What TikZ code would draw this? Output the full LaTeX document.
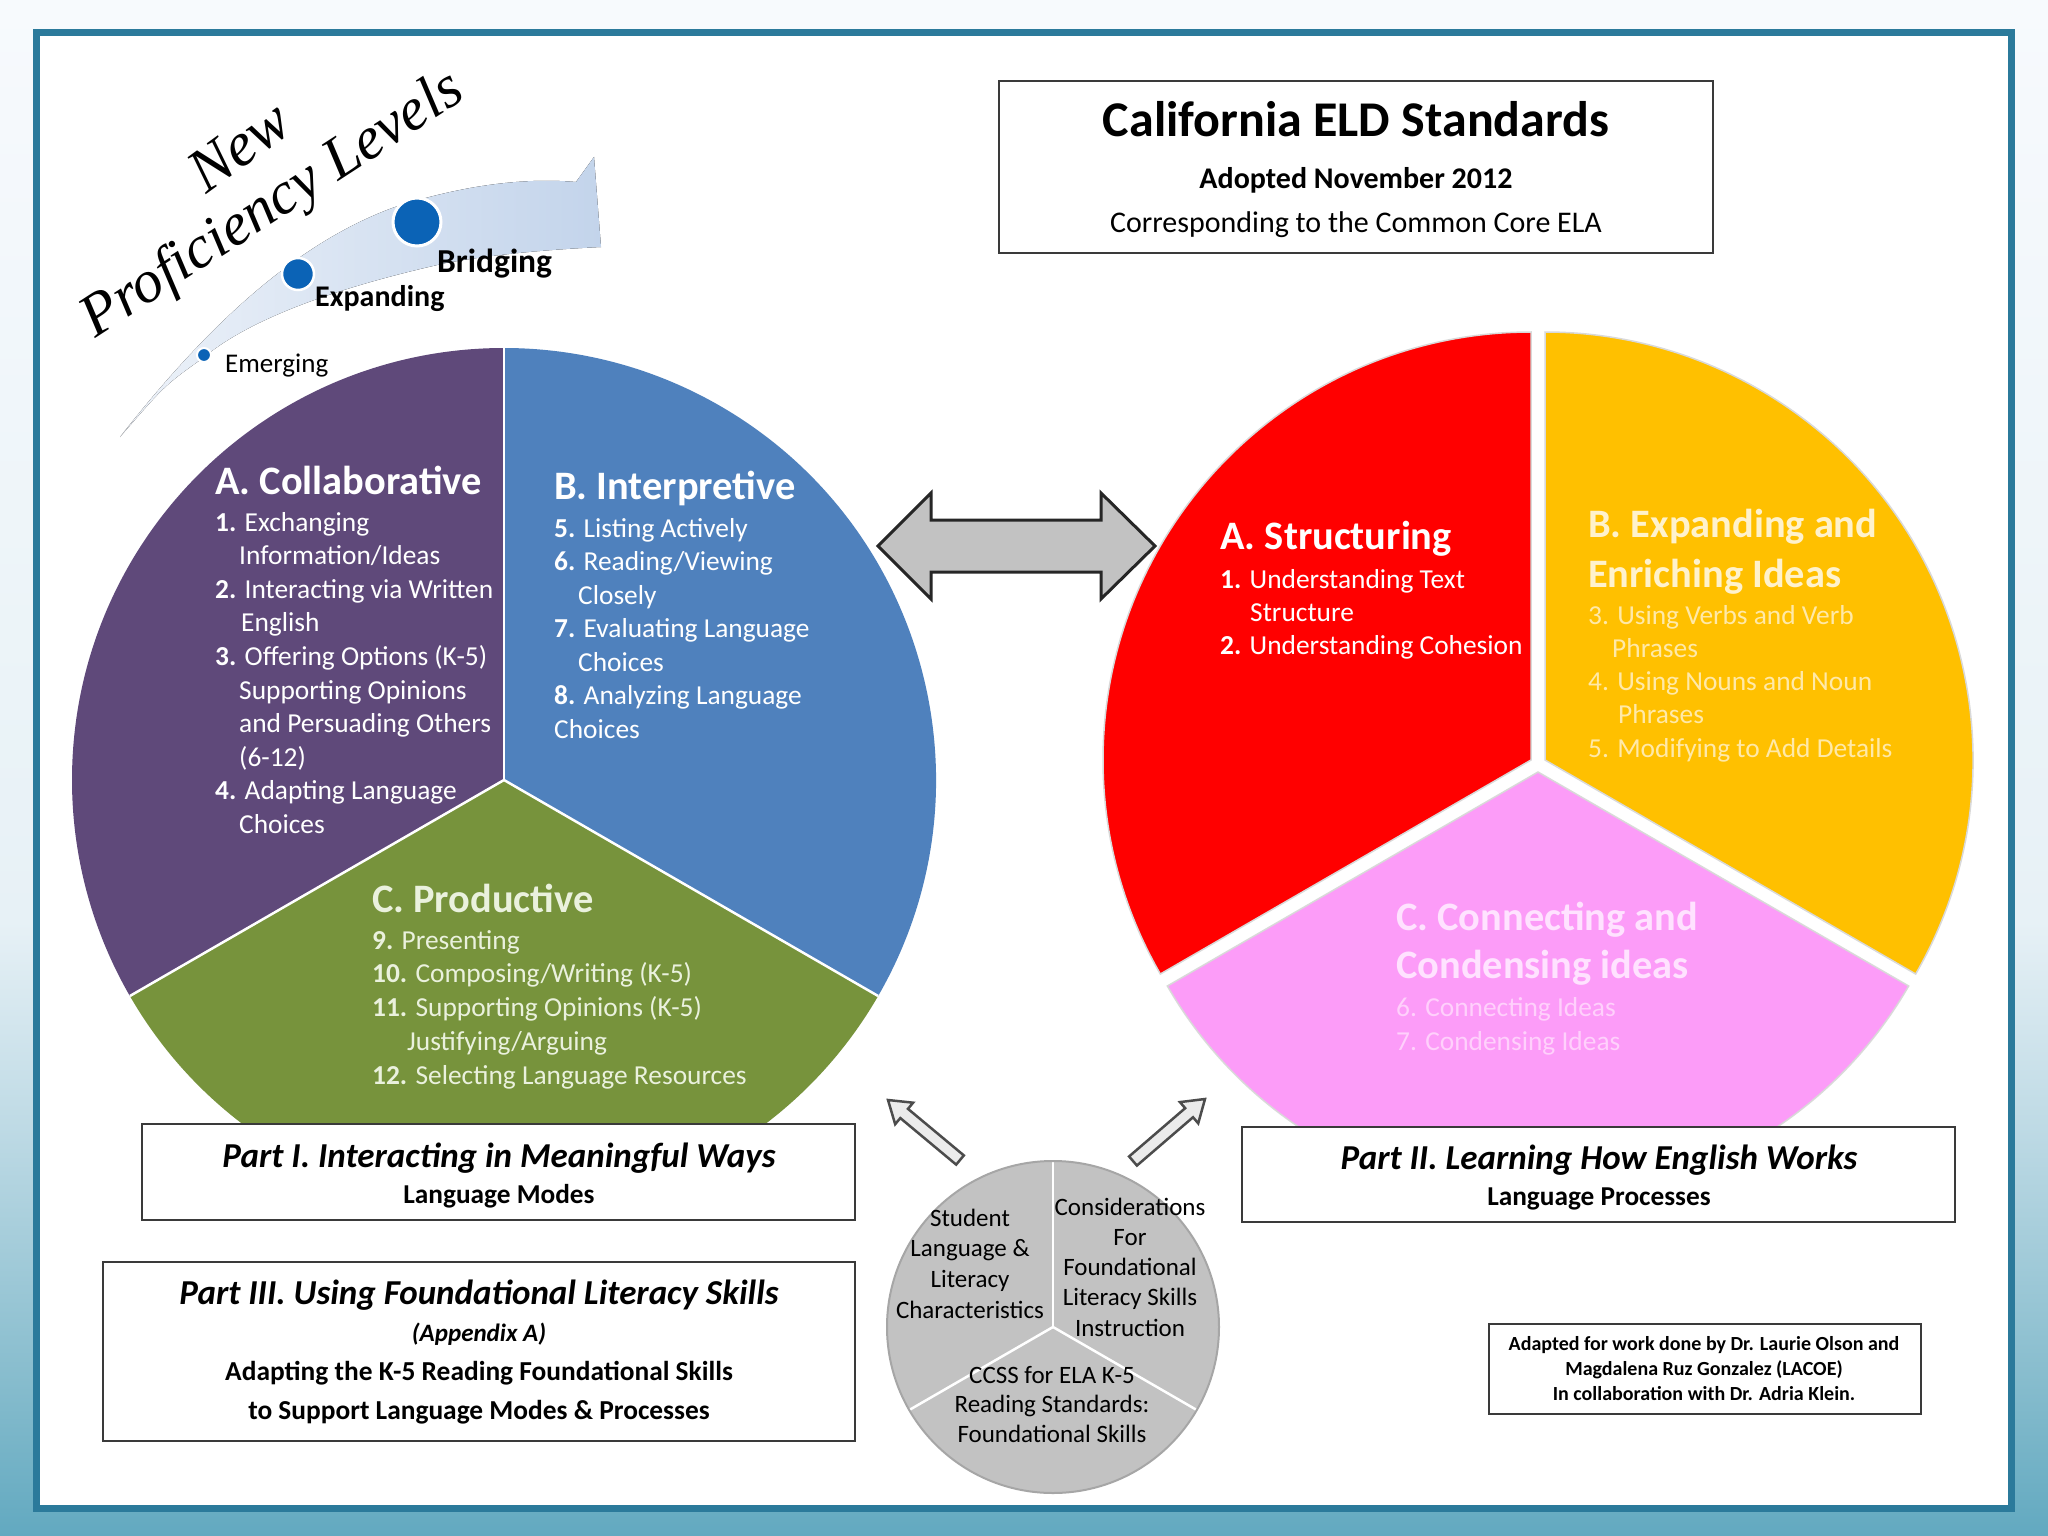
\documentclass[tikz,border=0pt]{standalone}
\usepackage{fontspec}
\setmainfont{Carlito}
\newfontfamily\serifit{Liberation Serif}
\usetikzlibrary{calc}
\definecolor{frame}{HTML}{2B7A9B}
\definecolor{bgbot}{HTML}{62A9C0}
\definecolor{bgb2}{HTML}{86BCCD}
\definecolor{bgb3}{HTML}{BCD9E4}
\definecolor{bgmid}{HTML}{E7F1F6}
\definecolor{bgtop}{HTML}{F7FAFD}
\definecolor{purp}{HTML}{5F497A}
\definecolor{blueS}{HTML}{4F81BD}
\definecolor{greenS}{HTML}{77933C}
\definecolor{redS}{HTML}{FF0000}
\definecolor{yelS}{HTML}{FFC000}
\definecolor{pinkS}{HTML}{FC9CF8}
\definecolor{grayS}{HTML}{C2C2C2}
\definecolor{greenT}{HTML}{EAF1DD}
\definecolor{yelT}{HTML}{FFF2CC}
\definecolor{yelI}{HTML}{FFE9A8}
\definecolor{pinkT}{HTML}{FFE2FF}
\definecolor{pinkI}{HTML}{FFD0FC}
\definecolor{profblue}{HTML}{C3D4EB}
\definecolor{dotblue}{HTML}{0B63B6}
\definecolor{boxline}{HTML}{3A3A3A}
\pgfdeclareverticalshading{bgshade}{100bp}{color(0bp)=(bgbot); color(25bp)=(bgbot); color(30bp)=(bgb2); color(38bp)=(bgb3); color(45bp)=(bgmid); color(75bp)=(bgtop); color(100bp)=(bgtop)}
\newcommand\blockarr[6]{%
  \coordinate (ba-b) at ($(#3)!#6!(#2)$);
  \draw[#1] ($(#2)!#4!90:(#3)$) -- ($(ba-b)!#4!-90:(#2)$) -- ($(ba-b)!#5!-90:(#2)$) -- (#3)
    -- ($(ba-b)!#5!90:(#2)$) -- ($(ba-b)!#4!90:(#2)$) -- ($(#2)!#4!-90:(#3)$) -- cycle;}
\tikzset{
  itemtxt/.style={anchor=base west, inner sep=0pt, font=\fontsize{27.4}{32}\selectfont},
  ttltxt/.style={anchor=base west, inner sep=0pt, font=\fontsize{40.4}{44}\selectfont\bfseries},
  ctxt/.style={anchor=base, inner sep=0pt},
  partbox/.style={draw=boxline, fill=white, line width=2.5pt},
  sep/.style={draw=white, line width=2.5pt},
  smallarr/.style={draw=black!70, fill=white!92!black, line width=2.5pt, line join=miter},
}
\begin{document}
\begin{tikzpicture}[x=1pt,y=-1pt]
\useasboundingbox (0,0) rectangle (2048,1536);
\shade[shading=bgshade] (0,0) rectangle (2048,1536);
\filldraw[fill=white, draw=frame, line width=7pt] (36,33) rectangle (2011,1508);

% proficiency arrow
\fill[left color=white!70!profblue, right color=profblue] (120,437) .. controls (200,335) and (290,245) .. (395,207)
  .. controls (470,183) and (530,178) .. (576,182) -- (594,157) -- (601,247)
  .. controls (540,250) and (490,255) .. (446,263) .. controls (370,280) and (260,310) .. (203,358)
  .. controls (165,385) .. (120,437) -- cycle;
\filldraw[fill=dotblue, draw=white, line width=2pt] (204,355) circle[radius=7];
\filldraw[fill=dotblue, draw=white, line width=2.5pt] (298,274) circle[radius=16];
\filldraw[fill=dotblue, draw=white, line width=3pt] (417,222) circle[radius=24];
\node[anchor=base west, inner sep=0pt, font=\fontsize{27}{30}\selectfont] (em) at (225,372) {Emerging};
\node[anchor=base west, inner sep=0pt, font=\fontsize{30}{33}\selectfont\bfseries] (ex) at (315,306) {Expanding};
\node[anchor=base west, inner sep=0pt, font=\fontsize{33.5}{36}\selectfont\bfseries] (br) at (437,272) {Bridging};
\node[rotate=33, inner sep=0pt, font=\serifit\itshape\fontsize{60}{60}\selectfont] (npl) at (273,206) {Proficiency Levels};
\node[rotate=36, inner sep=0pt, font=\serifit\itshape\fontsize{62}{62}\selectfont] (nnew) at (239,146) {New};

% title box
\draw[draw=boxline, line width=2pt] (999,81) rectangle (1713,253);
\node[ctxt, font=\fontsize{50}{55}\selectfont\bfseries] (t1) at (1356,137) {California ELD Standards};
\node[ctxt, font=\fontsize{30}{33}\selectfont\bfseries] (t2) at (1356,189) {Adopted November 2012};
\node[ctxt, font=\fontsize{30}{33}\selectfont] (t3) at (1356,232) {Corresponding to the Common Core ELA};

% left pie
\coordinate (LC) at (504,780);
\fill[purp] (LC) -- ++(-90:432) arc[start angle=-90,end angle=-210,radius=432] -- cycle;
\fill[blueS] (LC) -- ++(30:432) arc[start angle=30,end angle=-90,radius=432] -- cycle;
\fill[greenS] (LC) -- ++(-210:432) arc[start angle=-210,end angle=-330,radius=432] -- cycle;
\draw[sep] (LC) -- ++(-90:432);
\draw[sep] (LC) -- ++(-210:432);
\draw[sep] (LC) -- ++(30:432);

\node[ttltxt, white] (lAt) at (215,494) {A. Collaborative};
\foreach \t [count=\i] in {{\textbf{1.} Exchanging},{\hspace*{24pt}Information/Ideas},{\textbf{2.} Interacting via Written},{\hspace*{26pt}English},{\textbf{3.} Offering Options (K-5)},{\hspace*{24pt}Supporting Opinions},{\hspace*{24pt}and Persuading Others},{\hspace*{24pt}(6-12)},{\textbf{4.} Adapting Language},{\hspace*{24pt}Choices}}
  \node[itemtxt, white] (lA\i) at (215,{531+(\i-1)*33.6}) {\t};
\node[ttltxt, white] (lBt) at (554,499) {B. Interpretive};
\foreach \t [count=\i] in {{\textbf{5.} Listing Actively},{\textbf{6.} Reading/Viewing},{\hspace*{24pt}Closely},{\textbf{7.} Evaluating Language},{\hspace*{24pt}Choices},{\textbf{8.} Analyzing Language},{Choices}}
  \node[itemtxt, white] (lB\i) at (554,{537+(\i-1)*33.5}) {\t};
\node[ttltxt, greenT] (lCt) at (372,912) {C. Productive};
\foreach \t [count=\i] in {{\textbf{9.} Presenting},{\textbf{10.} Composing/Writing (K-5)},{\textbf{11.} Supporting Opinions (K-5)},{\hspace*{35pt}Justifying/Arguing},{\textbf{12.} Selecting Language Resources}}
  \node[itemtxt, greenT] (lC\i) at (372,{949+(\i-1)*33.75}) {\t};

% right pie
\coordinate (RA) at (1531,760);
\coordinate (RB) at (1545,760);
\coordinate (RCc) at (1538,772);
\filldraw[fill=redS, draw=white!85!black, line width=1.5pt] (RA) -- ++(-90:428) arc[start angle=-90,end angle=-210,radius=428] -- cycle;
\filldraw[fill=yelS, draw=white!85!black, line width=1.5pt] (RB) -- ++(30:428) arc[start angle=30,end angle=-90,radius=428] -- cycle;
\filldraw[fill=pinkS, draw=white!85!black, line width=1.5pt] (RCc) -- ++(-210:428) arc[start angle=-210,end angle=-330,radius=428] -- cycle;

\node[ttltxt, white] (rAt) at (1220,549.5) {A. Structuring};
\foreach \t [count=\i] in {{\textbf{1.} Understanding Text},{\hspace*{30pt}Structure},{\textbf{2.} Understanding Cohesion}}
  \node[itemtxt, white] (rA\i) at (1220,{588+(\i-1)*33}) {\t};
\node[ttltxt, yelT] (rBt1) at (1588,537.5) {B. Expanding and};
\node[ttltxt, yelT] (rBt2) at (1588,587.5) {Enriching Ideas};
\foreach \t [count=\i] in {{3. Using Verbs and Verb},{\hspace*{24pt}Phrases},{4. Using Nouns and Noun},{\hspace*{30pt}Phrases},{5. Modifying to Add Details}}
  \node[itemtxt, yelI] (rB\i) at (1588,{624+(\i-1)*33.3}) {\t};
\node[ttltxt, pinkT] (rCt1) at (1396,930.5) {C. Connecting and};
\node[ttltxt, pinkT] (rCt2) at (1396,978.5) {Condensing ideas};
\foreach \t [count=\i] in {{6. Connecting Ideas},{7. Condensing Ideas}}
  \node[itemtxt, pinkI] (rC\i) at (1396,{1016+(\i-1)*34}) {\t};

% double arrow
\coordinate (dL) at (878,546);
\coordinate (dR) at (1155,546);
\filldraw[fill=grayS, draw=black!85, line width=3pt, line join=miter] (dL) -- ($(dL)+(53,-53)$) -- ($(dL)+(53,-26)$) -- ($(dR)+(-54,-26)$) -- ($(dR)+(-54,-53)$) -- (dR)
  -- ($(dR)+(-54,53)$) -- ($(dR)+(-54,26)$) -- ($(dL)+(53,26)$) -- ($(dL)+(53,53)$) -- cycle;

% part boxes
\draw[partbox] (142,1124) rectangle (855,1220);
\node[ctxt, font=\fontsize{35}{38}\selectfont\bfseries\itshape] (p1a) at (499,1167) {Part I. Interacting in Meaningful Ways};
\node[ctxt, font=\fontsize{27.3}{30}\selectfont\bfseries] (p1b) at (499,1203) {Language Modes};
\draw[partbox] (1242,1127) rectangle (1955,1222);
\node[ctxt, font=\fontsize{35}{38}\selectfont\bfseries\itshape] (p2a) at (1599,1169) {Part II. Learning How English Works};
\node[ctxt, font=\fontsize{27.3}{30}\selectfont\bfseries] (p2b) at (1599,1205) {Language Processes};
\draw[partbox] (103,1262) rectangle (855,1441);
\node[ctxt, font=\fontsize{35}{38}\selectfont\bfseries\itshape] (p3a) at (479,1304) {Part III. Using Foundational Literacy Skills};
\node[ctxt, font=\fontsize{25}{28}\selectfont\bfseries\itshape] (p3b) at (479,1341) {(Appendix A)};
\node[ctxt, font=\fontsize{27.4}{30}\selectfont\bfseries] (p3c) at (479,1380) {Adapting the K-5 Reading Foundational Skills};
\node[ctxt, font=\fontsize{27.4}{30}\selectfont\bfseries] (p3d) at (479,1419) {to Support Language Modes \& Processes};

% credit box
\draw[draw=boxline, line width=2.5pt] (1489,1324) rectangle (1921,1414);
\node[ctxt, font=\fontsize{20}{22}\selectfont\bfseries] (cr1) at (1704,1350) {Adapted for work done by Dr. Laurie Olson and};
\node[ctxt, font=\fontsize{20}{22}\selectfont\bfseries] (cr2) at (1704,1375) {Magdalena Ruz Gonzalez (LACOE)};
\node[ctxt, font=\fontsize{20}{22}\selectfont\bfseries] (cr3) at (1704,1400) {In collaboration with Dr. Adria Klein.};

% gray pie
\coordinate (GC) at (1053,1327);
\fill[grayS] (GC) circle[radius=166];
\draw[sep] (GC) -- ++(-90:166);
\draw[sep] (GC) -- ++(-210:166);
\draw[sep] (GC) -- ++(30:166);
\draw[black!35, line width=2pt] (GC) circle[radius=166];
\foreach \t [count=\i] in {Student,Language \&,Literacy,Characteristics}
  \node[ctxt, font=\fontsize{25}{28}\selectfont] (gA\i) at (970,{1226+(\i-1)*30.7}) {\t};
\foreach \t [count=\i] in {Considerations,For,Foundational,Literacy Skills,Instruction}
  \node[ctxt, font=\fontsize{25}{28}\selectfont] (gB\i) at (1130,{1215+(\i-1)*30.3}) {\t};
\foreach \t [count=\i] in {CCSS for ELA K-5,Reading Standards:,Foundational Skills}
  \node[ctxt, font=\fontsize{25}{28}\selectfont] (gC\i) at (1052,{1383+(\i-1)*29.5}) {\t};

% small arrows
\coordinate (aLt) at (960,1160);
\coordinate (aLh) at (888,1100);
\coordinate (aRt) at (1133,1161);
\coordinate (aRh) at (1205,1099);
\blockarr{smallarr}{aLt}{aLh}{6pt}{14pt}{21pt}
\blockarr{smallarr}{aRt}{aRh}{6pt}{14pt}{21pt}
\end{tikzpicture}
\end{document}
